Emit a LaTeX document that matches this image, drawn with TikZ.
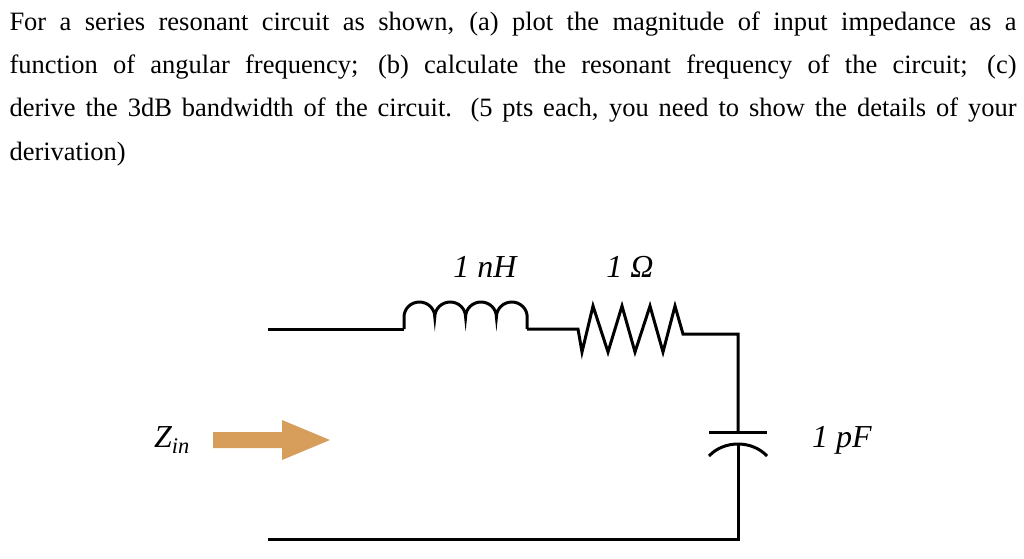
\documentclass[tikz,border=0pt]{standalone}
\usepackage{fontspec}
\setmainfont{Liberation Serif}
\definecolor{arr}{RGB}{214,158,90}
\begin{document}
\begin{tikzpicture}[x=1pt,y=-1pt,line width=3pt,
  lbl/.style={font=\itshape\fontsize{32}{34}\selectfont,inner sep=0},
  para/.style={anchor=base west,inner sep=0,font=\fontsize{26.5}{30}\selectfont}]
\useasboundingbox (0,0) rectangle (1024,558);
\node[para] (t1) at (8,30) {\makebox[1007pt][s]{For a series resonant circuit as shown, (a) plot the magnitude of input impedance as a}};
\node[para] (t2) at (8,73) {\makebox[1007pt][s]{function of angular frequency; (b) calculate the resonant frequency of the circuit; (c)}};
\node[para] (t3) at (8,116) {\makebox[1007pt][s]{derive the 3dB bandwidth of the circuit. (5 pts each, you need to show the details of your}};
\node[para] (t4) at (8,160) {derivation)};
\coordinate (a) at (268,329);
\coordinate (l1) at (404,329);
\coordinate (l2) at (527,329);
\coordinate (r1) at (578,329);
\coordinate (r2) at (683,334);
\coordinate (c1) at (738,334);
\coordinate (cp) at (738,432);
\coordinate (cq) at (738,444);
\coordinate (c2) at (738,539);
\coordinate (b) at (268,539);
\draw (a) -- (l1);
\draw (l1) -- ++(0,-12) arc (180:360:15.4 and 15) arc (180:360:15.4 and 15) arc (180:360:15.4 and 15) arc (180:360:15.4 and 15) -- (l2);
\draw[line join=miter] (l2) -- (r1) -- (582,352) -- (593,306) -- (608,352) -- (622,306) -- (635,352) -- (650,306) -- (663,352) -- (675,306) -- (r2) -- (c1) -- (cp);
\draw (709,432) -- (767,432);
\draw (709,456) .. controls (724,440) and (752,440) .. (767,456);
\draw (cq) -- (c2) -- (b);
\fill[arr] (213,432) -- (282,432) -- (282,420) -- (330,440) -- (282,460) -- (282,448) -- (213,448) -- cycle;
\node[lbl] (zin) at (172,440) {Z\textsubscript{in}};
\node[lbl] (lp) at (842,440) {1 pF};
\node[lbl] (ln) at (485,267) {1 nH};
\node[lbl] (lo) at (630,267) {1 Ω};
\end{tikzpicture}
\end{document}
